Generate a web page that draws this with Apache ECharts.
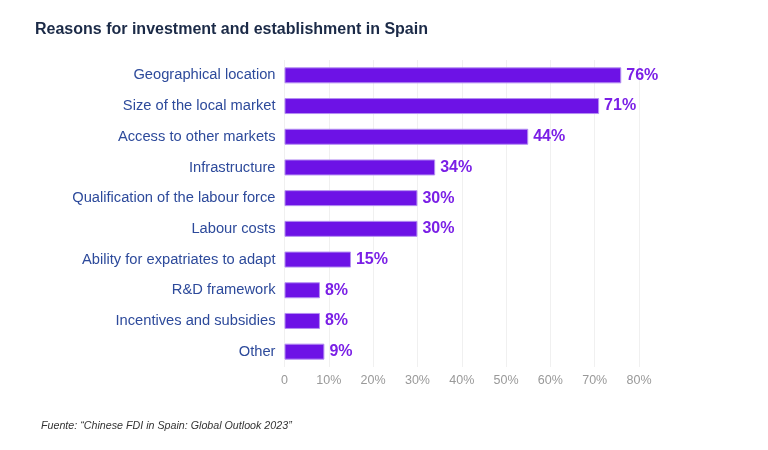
<!DOCTYPE html>
<html>
<head>
<meta charset="utf-8">
<script src="https://cdn.jsdelivr.net/npm/echarts@6/dist/echarts.min.js"></script>
<style>
html,body{margin:0;padding:0;background:#fff;}
#chart{width:768px;height:450px;}
</style>
</head>
<body>
<div id="chart"></div>
<script>
var categories = ["Geographical location","Size of the local market","Access to other markets","Infrastructure","Qualification of the labour force","Labour costs","Ability for expatriates to adapt","R&D framework","Incentives and subsidies","Other"];
var values = [76, 71, 55, 34, 30, 30, 15, 8, 8, 9];
var valueLabels = ["76%","71%","44%","34%","30%","30%","15%","8%","8%","9%"];
var xTicks = [0, 10, 20, 30, 40, 50, 60, 70, 80];

var chart = echarts.init(document.getElementById('chart'), null, {renderer:'canvas'});
var data = values.map(function(v,i){ return {value:v, labelText:valueLabels[i]}; });
chart.setOption({
  animation:false,
  backgroundColor:'#ffffff',
  title:{
    text:'Reasons for investment and establishment in Spain',
    left:30, top:17,
    textStyle:{fontFamily:'Liberation Sans, Arial, sans-serif', fontWeight:'bold', fontSize:16, color:'#1b2a47'}
  },
  graphic:[{
    type:'text', left:41, top:421,
    style:{text:'Fuente: \u201cChinese FDI in Spain: Global Outlook 2023\u201d', fontFamily:'Liberation Sans, Arial, sans-serif', fontStyle:'italic', fontSize:10.7, fill:'#333333'}
  }],
  grid:{left:284.5, right:129, top:60, bottom:83, containLabel:false},
  xAxis:{
    type:'value', min:xTicks[0], max:xTicks[xTicks.length-1], interval:10,
    axisLine:{show:false}, axisTick:{show:false},
    splitLine:{show:true, lineStyle:{color:'#f0f0f0', width:1}},
    axisLabel:{
      color:'#999999', fontSize:12.5, fontFamily:'Liberation Sans, Arial, sans-serif', margin:7,
      formatter:function(v){ return v===0 ? '0' : v + '%'; }
    }
  },
  yAxis:{
    type:'category', data:categories, inverse:true,
    axisLine:{show:false}, axisTick:{show:false},
    axisLabel:{color:'#2d4a9b', fontSize:14.7, fontFamily:'Liberation Sans, Arial, sans-serif', margin:9}
  },
  series:[{
    type:'bar', data:data, barWidth:16,
    itemStyle:{color:'#6d12e6', borderColor:'#b48ef2', borderWidth:1},
    label:{
      show:true, position:'right', distance:5,
      color:'#7a1fe6', fontWeight:'bold', fontSize:16, fontFamily:'Liberation Sans, Arial, sans-serif',
      formatter:function(p){ return p.data.labelText; }
    }
  }]
});
</script>
</body>
</html>
